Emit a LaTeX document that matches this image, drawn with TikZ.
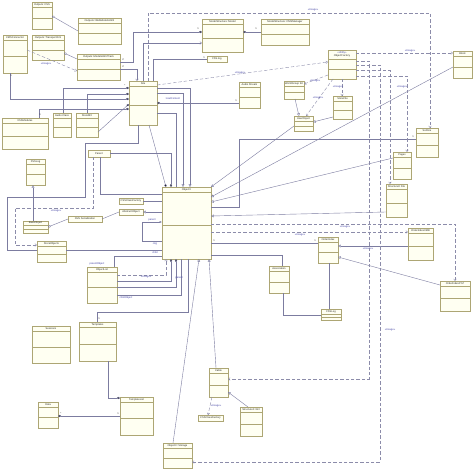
\documentclass[tikz,border=0pt]{standalone}
\usepackage{fontspec}
\setmainfont{Liberation Sans}
\usetikzlibrary{arrows.meta}
\definecolor{clsborder}{HTML}{ADA674}
\definecolor{clsfill}{HTML}{FFFFF2}
\definecolor{clstext}{HTML}{303028}
\definecolor{linecol}{HTML}{7C7CA0}
\definecolor{dashcol}{HTML}{8C8CAA}
\definecolor{lblcol}{HTML}{4848A8}
\newcommand\clsfont{\fontsize{2.6}{3}\selectfont}
\tikzset{
  clsbox/.style={draw=clsborder, fill=clsfill, line width=0.45pt, rectangle, inner sep=0pt, outer sep=0pt, text=clstext},
  clstitle/.style={font=\clsfont, text=clstext, inner sep=0pt},
  clsline/.style={draw=clsborder, line width=0.35pt},
  assoc/.style={draw=linecol, line width=0.4pt},
  usage/.style={draw=dashcol, line width=0.4pt, dash pattern=on 3.4pt off 2pt, -ub},
  lbl/.style={font=\clsfont, text=lblcol, inner sep=0.2pt},
  mult/.style={font=\clsfont, text=clstext, inner sep=0.2pt},
  fd/.tip={Diamond[length=3.2pt,width=2.4pt,fill=black]},
  od/.tip={Diamond[open,length=3.2pt,width=2.4pt]},
  og/.tip={Triangle[open,length=2.6pt,width=2.8pt]},
  ub/.tip={Straight Barb[length=1.8pt,width=2.6pt]},
}
\newcommand\umlcls[7][5.2]{%
  \node[clsbox, minimum width=#5pt, minimum height=#6pt] (#2) at ({#3+#5/2},{#4+#6/2}) {};
  \node[clstitle] (#2-t) at ({#3+#5/2},{#4+#1/2}) {#7};
  \draw[clsline] ({#3},{#4+#1}) -- ({#3+#5},{#4+#1});
  \draw[clsline] ({#3},{#4+#1+(#6-#1)*0.5}) -- ({#3+#5},{#4+#1+(#6-#1)*0.5});
}
\newcommand\umlsmall[6]{%
  \node[clsbox, font=\clsfont, minimum width=#4pt, minimum height=#5pt] (#1) at ({#2+#4/2},{#3+#5/2}) {#6};
}
\begin{document}
\begin{tikzpicture}[x=1pt,y=-1pt]
\fill[white] (0,0) rectangle (474,471);
\path[use as bounding box] (0,0) rectangle (474,471);

% ---------- classes ----------
\umlcls{OutCSS}{32}{2}{20}{27}{Outputs::CSS}
\umlcls{OutWeb}{78}{18}{43}{26}{Outputs::WebModelsHtml}
\umlcls{OutTrans}{32}{35}{32}{25}{Outputs::TransportXml}
\umlcls{CMSConn}{3}{35}{24}{38}{CMSConnector}
\umlcls{OutMHT}{77}{54}{43}{26}{Outputs::ModelsHtmlTrack}
\umlcls{Site}{129}{81}{28}{44}{Site}
\umlcls{XSS}{2}{118}{46}{31}{XSSModules}
\umlcls{AudioCls}{53}{113}{18}{24}{Audio Class}
\umlcls{StoreMX}{76}{113}{22}{24}{StoreMX}
\umlcls{ModelMode}{202}{19}{41}{33}{ModelStructure::Model}
\umlcls{ModelCMS}{261}{19}{48}{26}{ModelStructure::CMSManager}
\umlsmall{FSSLogA}{207}{56}{20}{6}{FSS.log}
\umlcls{AudioStream}{239}{82}{21}{26}{Audio Stream}
\umlcls{WorldKit}{284}{81}{20}{18}{WorldGroup Kit}
\umlcls{UserObj}{294}{116}{19}{15}{UserObject}
\umlcls{StoreObj}{333}{96}{19}{23}{StoreFile}
\umlcls[9]{ObjFac}{328}{50}{28}{29}{}
\node[font=\clsfont, text=lblcol, inner sep=0pt] (ObjFac-s) at (342,52.6) {«Utility»};
\node[clstitle] (ObjFac-n) at (342,56.2) {ObjectFactory};
\umlcls{Block}{453}{51}{19}{27}{Block}
\umlcls{Setline}{416}{128}{22}{29}{Sortline}
\umlcls{Pages}{393}{152}{18}{27}{Pages}
\umlcls{StructFile}{386}{184}{21}{33}{StructureX File}
\umlcls{FSSLogB}{26}{159}{19}{26}{FSSLog}
\umlsmall{Parent}{88}{150}{22}{7}{Parent}
\umlsmall{CSSCFa}{119}{198}{24}{6}{CSSClassFactory}
\umlsmall{AbsObj}{119}{209}{24}{6}{AbstractObject}
\umlsmall{XMLSer}{68}{216}{34}{6}{XML Serialization}
\umlcls[4.5]{BaseObj}{23}{221}{25}{12}{BaseObject}
\umlcls{StoreObjs}{37}{241}{29}{21}{StoreObjects}
\umlcls{ObjList}{87}{267}{30}{36}{ObjectList}
\umlcls{Obj}{162}{187}{49}{72}{ObjectX}
\umlcls{Assoc}{269}{266}{20}{27}{Association}
\umlcls{OrdIdx}{318}{237}{20}{26}{OrderIndex}
\umlcls{OrdXMB}{408}{228}{25}{32}{OrderIndexXMB}
\umlcls{OrdXYZ}{440}{281}{30}{30}{OrderIndexXYZ}
\umlcls[5]{FSSLogC}{321}{309}{20}{11}{FSSLog}
\umlcls{Templ}{79}{322}{37}{39}{Templates}
\umlcls{Sess}{32}{326}{38}{37}{Sessions}
\umlcls{Data}{38}{402}{20}{26}{Data}
\umlcls{TemplList}{120}{397}{33}{38}{TemplateList}
\umlcls{Cable}{209}{368}{19}{29}{Cable}
\umlsmall{CSSCFb}{198}{415}{25}{6}{CSSClassFactory}
\umlcls{StructXml}{240}{407}{22}{29}{StructureX Xml}
\umlcls{ObjStor}{163}{443}{29}{25}{ObjectX::Storage}

% ---------- top-left outputs ----------
\draw[assoc, od-] (OutCSS.east |- 0,16) -- (OutWeb.west |- 0,31);
\draw[assoc, od-] (OutTrans.east |- 0,53) -- (OutMHT.west |- 0,59);
\draw[usage] (CMSConn.east |- 0,50) -- (OutMHT.west |- 0,71);
\node[lbl] (u1) at (46,64) {«Usage»};
\draw[assoc, -fd] (OutMHT.east |- 0,62) -- (133,62) -- (133,32) -- (ModelMode.west |- 0,32);
\draw[assoc, -ub] (OutMHT.east |- 0,69) -- (137,69) -- (137,0 |- Site.north);
\draw[assoc, -ub] (143,0 |- Site.north) -- (143,43) -- (ModelMode.west |- 0,43);
\draw[assoc] (153,0 |- Site.north) -- (153,59) -- (FSSLogA.west |- 0,59);
\draw[assoc, fd-] (ModelMode.east |- 0,32) -- (ModelCMS.west |- 0,32);
\node[mult] (m1) at (198,29) {1};
\node[mult] (m2) at (256,29) {1};
\node[mult] (m3) at (123,60) {2};
\node[mult] (m4) at (123,67) {2};
\node[mult] (m5) at (204,58) {1};

% top dashed usage
\draw[usage] (148,0 |- Site.north) -- (148,13) -- (430,13) -- (430,0 |- Setline.north);
\node[lbl] (u2) at (313,10) {«Usage»};

% ---------- into Site (left) ----------
\draw[assoc, -fd] (10,0 |- CMSConn.south) -- (10,99) -- (Site.west |- 0,99);
\draw[assoc, -fd] (63,0 |- AudioCls.north) -- (63,88) -- (Site.west |- 0,88);
\draw[assoc, -fd] (87,0 |- StoreMX.north) -- (87,94) -- (Site.west |- 0,94);
\draw[assoc, -fd] (39,0 |- XSS.north) -- (39,109) -- (Site.west |- 0,109);
\draw[assoc, -fd] (StoreMX.east |- 0,132) -- (Site.west |- 0,104);
\node[mult] (m6) at (11,76) {1};
\node[mult] (m7) at (40,115) {1};
\node[mult] (m8) at (125,86) {*};

% ---------- Site right / bottom ----------
\draw[assoc, fd-] (Site.east |- 0,103) -- (AudioStream.west |- 0,103);
\node[lbl] (l1) at (173,99) {loadContent};
\node[mult] (m9) at (236,101) {1};
\draw[assoc, -og] (Site.east |- 0,88) -- (190,88) -- (190,0 |- Obj.north);
\draw[assoc, -og] (Site.east |- 0,93) -- (183,93) -- (183,0 |- Obj.north);
\draw[assoc] (Site.east |- 0,113) -- (176,113) -- (176,0 |- Obj.north);
\draw[assoc, -fd] (149,0 |- Site.south) -- (166,0 |- Obj.north);
\draw[assoc, -fd] (Parent.east |- 0,153) -- (171,153) -- (171,0 |- Obj.north);
\draw[assoc] (138,0 |- Site.south) -- (138,143) -- (85,143) -- (85,197) -- (7,197) -- (7,250) -- (StoreObjs.west |- 0,250);
\draw[usage] (Site.east |- 0,85) -- (ObjFac.west |- 0,62);
\node[lbl] (u3) at (240,73) {«Usage»};

% ---------- left of Object ----------
\draw[assoc] (100,0 |- Parent.south) -- (100,194) -- (Obj.west |- 0,194);
\draw[usage] (93,0 |- Parent.south) -- (93,208) -- (15,208) -- (15,245) -- (StoreObjs.west |- 0,245);
\node[lbl] (u4) at (56,211) {«Usage»};
\draw[assoc] (CSSCFa.east) -- (Obj.west |- CSSCFa.east);
\draw[assoc, og-] (AbsObj.east) -- (Obj.west |- AbsObj.east);
\draw[assoc] (XMLSer.east) -- (AbsObj.west);
\draw[assoc, -od] (XMLSer.west) -- (BaseObj.east);
\draw[assoc, -og] (33,0 |- BaseObj.north) -- (33,0 |- FSSLogB.south);
\draw[assoc, -{Latex[length=2.4pt,width=2pt]}] (Obj.west |- 0,241) -- (142,241) -- (142,222) -- (Obj.west |- 0,222);
\node[lbl] (l2) at (152,220) {parent};
\node[lbl] (l3) at (155,243.5) {ckg};
\draw[assoc] (StoreObjs.east |- 0,250) -- (Obj.west |- 0,250);
\node[lbl] (l4) at (155,252.5) {child};
\draw[assoc] (114,0 |- ObjList.north) -- (114,256) -- (Obj.west |- 0,256);
\node[lbl] (l5) at (97,264) {parentObject};

% ---------- below Object ----------
\draw[usage] (ObjList.east |- 0,275) -- (166,275) -- (166,0 |- Obj.south);
\node[lbl] (u5) at (146,277) {«Usage»};
\draw[assoc, -fd] (ObjList.east |- 0,281) -- (171,281) -- (171,0 |- Obj.south);
\draw[assoc, -fd] (ObjList.east |- 0,287) -- (176,287) -- (176,0 |- Obj.south);
\draw[assoc] (ObjList.east |- 0,295) -- (181,295) -- (181,0 |- Obj.south);
\node[lbl] (l6) at (179,278) {parent};
\node[lbl] (l7) at (126,298) {childObject};
\draw[assoc] (188,0 |- Obj.south) -- (188,312) -- (97,312) -- (97,0 |- Templ.north);
\node[mult] (m10) at (99,319) {1};
\draw[assoc, og-] (199,0 |- Obj.south) -- (173,0 |- ObjStor.north);
\draw[assoc, og-] (209,0 |- Obj.south) -- (216,0 |- Cable.north);
\draw[usage] (212,0 |- Cable.south) -- (208,0 |- CSSCFb.north);
\node[lbl] (u6) at (216,406) {«Usage»};
\draw[assoc, -og] (248,0 |- StructXml.north) -- (Cable.east |- 0,392);
\draw[assoc, -fd] (108,0 |- Templ.south) -- (108,398) -- (TemplList.west |- 0,398);
\draw[assoc, -fd] (TemplList.west |- 0,416) -- (Data.east |- 0,416);
\node[mult] (m11) at (118,414) {1};
\node[mult] (m12) at (61,414) {*};

% ---------- right of Object ----------
\draw[assoc, -og] (UserObj.west |- 0,126) -- (Obj.north east);
\draw[assoc, -og] (Block.west |- 0,67) -- (Obj.east |- 0,197);
\draw[assoc, -og] (Pages.west |- 0,158) -- (Obj.east |- 0,202);
\draw[assoc] (Obj.east |- 0,207) -- (239,207) -- (239,139) -- (Setline.west |- 0,139);
\node[mult] (m13) at (413,137) {1};
\draw[assoc, -og] (StructFile.west |- 0,212) -- (Obj.east |- 0,216);
\draw[usage] (Obj.east |- 0,224) -- (455,224) -- (455,0 |- OrdXYZ.north);
\node[lbl] (u7) at (345,226.5) {«Usage»};
\draw[usage] (Obj.east |- 0,232) -- (OrdXMB.west |- 0,232);
\node[lbl] (u8) at (300,235) {«Usage»};
\draw[assoc] (Obj.east |- 0,243) -- (OrdIdx.west |- 0,243);
\node[mult] (m14) at (214,241) {1};
\node[mult] (m15) at (315,241) {1};
\draw[assoc] (Obj.east |- 0,255) -- (282,255) -- (282,0 |- Assoc.north);
\draw[assoc] (283,0 |- Assoc.south) -- (283,315) -- (FSSLogC.west |- 0,315);
\draw[assoc] (329,0 |- OrdIdx.south) -- (329,0 |- FSSLogC.north);
\draw[assoc, -og] (OrdXMB.west |- 0,246) -- (OrdIdx.east |- 0,246);
\node[lbl] (u9) at (368,248.5) {«Usage»};
\draw[assoc, -og] (OrdXYZ.west |- 0,285) -- (OrdIdx.east |- 0,257);

% ---------- ObjectFactory ----------
\draw[usage] (ObjFac.east |- 0,53) -- (Block.west |- 0,53);
\node[lbl] (u10) at (410,51) {«Usage»};
\draw[usage] (ObjFac.east |- 0,61) -- (369,61) -- (369,379) -- (Cable.east |- 0,379);
\draw[usage] (ObjFac.east |- 0,65) -- (380,65) -- (380,462) -- (ObjStor.east |- 0,462);
\draw[usage] (ObjFac.east |- 0,70) -- (390,70) -- (390,0 |- StructFile.north);
\draw[usage] (ObjFac.east |- 0,76) -- (407,76) -- (407,0 |- Pages.north);
\node[lbl] (u11) at (402,87) {«Usage»};
\node[lbl] (u12) at (390,330) {«Usage»};
\draw[usage] (342,0 |- ObjFac.south) -- (342,0 |- StoreObj.north);
\node[lbl] (u13) at (338,87) {«Usage»};
\draw[usage] (333,0 |- ObjFac.south) -- (306,0 |- UserObj.north);
\node[lbl] (u14) at (318,98) {«Usage»};
\draw[usage] (ObjFac.west |- 0,75) -- (WorldKit.east |- 0,84);
\node[lbl] (u15) at (315,81) {«Usage»};
\draw[assoc, -og] (295,0 |- WorldKit.south) -- (299,0 |- UserObj.north);
\draw[assoc, -og] (StoreObj.west |- 0,117) -- (UserObj.east |- 0,122);
\end{tikzpicture}
\end{document}
